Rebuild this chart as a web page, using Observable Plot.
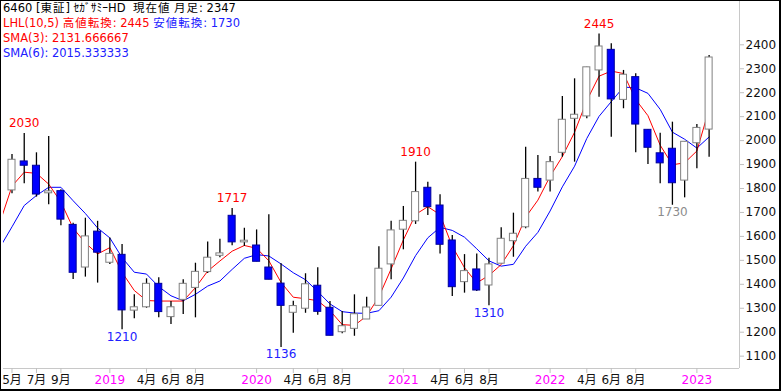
<!DOCTYPE html>
<html><head><meta charset="utf-8">
<script src="https://cdn.jsdelivr.net/npm/d3@7"></script>
<script src="https://cdn.jsdelivr.net/npm/@observablehq/plot@0.6"></script>
<style>
body{margin:0;background:#fff}
#wrap{position:relative;width:781px;height:391px;overflow:hidden;background:#fff}
#chart svg{display:block}
#hdr{position:absolute;left:3px;top:1px;font-family:"DejaVu Sans","Noto Sans CJK JP",sans-serif;font-size:11.5px;line-height:15px;white-space:pre}
#hdr .cjk{letter-spacing:1px}
#border{position:absolute;left:0;top:0;width:781px;height:391px;box-sizing:border-box;border:1px solid #000;border-right-width:2px;border-bottom-width:2px;pointer-events:none}
</style></head><body>
<div id="wrap"><div id="chart"></div><div id="hdr"></div><div id="border"></div></div>
<script>
// ---- data (monthly candles, 6460 セガサミーHD) ----
const months = ["2018-05","2018-06","2018-07","2018-08","2018-09","2018-10","2018-11","2018-12",
"2019-01","2019-02","2019-03","2019-04","2019-05","2019-06","2019-07","2019-08","2019-09","2019-10","2019-11","2019-12",
"2020-01","2020-02","2020-03","2020-04","2020-05","2020-06","2020-07","2020-08","2020-09","2020-10","2020-11","2020-12",
"2021-01","2021-02","2021-03","2021-04","2021-05","2021-06","2021-07","2021-08","2021-09","2021-10","2021-11","2021-12",
"2022-01","2022-02","2022-03","2022-04","2022-05","2022-06","2022-07","2022-08","2022-09","2022-10","2022-11","2022-12",
"2023-01","2023-02"];
const opens = [1792,1913,1895,1780,1789,1648,1470,1620,1490,1523,1290,1304,1402,1263,1335,1385,1451,1519,1686,1575,
1562,1470,1403,1281,1298,1394,1302,1200,1214,1253,1310,1483,1628,1663,1803,1729,1583,1409,1462,1395,1486,1580,1638,1840,
1833,1949,2091,2101,2293,2379,2170,2265,2045,1947,1966,1833,1989,2046];
const highs = [1942,2030,1949,2017,1795,1655,1676,1663,1593,1566,1356,1423,1427,1328,1419,1488,1577,1588,1717,1634,
1627,1690,1486,1329,1444,1469,1328,1286,1356,1346,1557,1663,1725,1910,1826,1774,1604,1524,1527,1509,1636,1697,1972,1938,
1934,2184,2258,2306,2445,2404,2293,2279,2045,2031,2077,1995,2067,2355];
const lows = [1778,1820,1764,1732,1644,1420,1430,1405,1483,1210,1256,1300,1260,1232,1274,1260,1445,1511,1561,1558,
1494,1419,1136,1196,1279,1271,1185,1193,1183,1253,1310,1419,1544,1650,1687,1527,1349,1363,1370,1310,1486,1513,1632,1785,
1785,1931,1910,2091,2181,2014,2133,1949,1900,1820,1730,1761,1882,1931];
const closes = [1920,1895,1775,1788,1670,1448,1600,1532,1527,1291,1304,1402,1284,1304,1402,1452,1511,1529,1575,1582,
1494,1419,1310,1309,1400,1285,1185,1225,1275,1303,1465,1625,1665,1785,1722,1565,1388,1455,1374,1483,1590,1611,1840,1803,
1910,2087,2108,2306,2393,2172,2275,2067,1970,1905,1822,1995,2053,2347];

// moving averages as drawn (first point is the month before the visible window)
const smaMonths = ["2018-04", ...months];
const sma3 = [1656,1810,1868,1863.3,1818.3,1743.3,1634.3,1572.7,1526.7,1553,1450,1374,1332.3,1330,1330,1330,1386,1455,1497.3,
1538.3,1562,1550.3,1498.3,1407.7,1346,1339.7,1331.3,1290,1231.7,1228.3,1267.7,1347.7,1464.3,1585,1691.7,1724,1690.7,1558.3,
1469.3,1405.7,1437.3,1482.3,1561.3,1680.3,1751.3,1851,1933.3,2035,2167,2269,2290.3,2280,2171.3,2104,1980.7,1899,1907.3,
1956.7,2131.7];
const sma6 = [1553,1640,1729,1771,1805,1805,1748.8,1695.5,1635,1593.7,1511.3,1450.3,1442.7,1390,1352,1331.2,1358,1392.5,
1413.7,1462.2,1508.5,1523.8,1518.3,1484.8,1448.2,1419,1369.5,1318,1285.7,1279.8,1278.8,1289.7,1346.3,1426.3,1519.7,1594.2,
1637.8,1625,1596.7,1548.2,1497.8,1475.8,1483.5,1558.8,1616.8,1706.2,1806.8,1893.2,2009,2101.2,2162.7,2223.5,2220.2,2197.2,
2130.3,2035.2,2005.7,1968.7,2015.3];

// LHL turning points
const pivotMonths = ["2018-06","2019-02","2019-11","2020-03","2021-02","2021-08","2022-05","2022-11"];
const pivotValues = [2030,1210,1717,1136,1910,1310,2445,1730];
const pivotKinds  = ["high","low","high","low","high","low","high","pending"];

// axis ticks
const monthTicks = ["2018-05","2018-07","2018-09","2019-04","2019-06","2019-08","2020-04","2020-06","2020-08",
"2021-04","2021-06","2021-08","2022-04","2022-06","2022-08"];
const yearTicks = ["2019-01","2020-01","2021-01","2022-01","2023-01"];
const yTicks = [1100,1200,1300,1400,1500,1600,1700,1800,1900,2000,2100,2200,2300,2400];

const header = {
  line1: "6460 [東証] ｾｶﾞｻﾐｰHD  現在値 月足: 2347",
  high: "LHL(10,5) 高値転換: 2445", low: "安値転換: 1730",
  s3: "SMA(3): 2131.666667", s6: "SMA(6): 2015.333333"
};

// ---- build ----
const idx = m => { const [y, mo] = m.split("-").map(Number); return (y - 2018) * 12 + (mo - 5); };
const candles = months.map((m, k) => ({i: idx(m), open: opens[k], high: highs[k], low: lows[k], close: closes[k]}));
const upC = candles.filter(d => d.close >= d.open);
const dnC = candles.filter(d => d.close < d.open);
const sma = smaMonths.map((m, k) => ({i: idx(m), s3: sma3[k], s6: sma6[k]}));
const pivots = pivotMonths.map((m, k) => ({i: idx(m), v: pivotValues[k], kind: pivotKinds[k]}));

const X_DOMAIN = [-0.695, 59.485];
const Y_DOMAIN = [1048.4, 2585];
const bodyOpts = {
  x1: d => d.i - 0.5, x2: d => d.i + 0.5,
  y1: d => Math.min(d.open, d.close), y2: d => Math.max(d.open, d.close),
  insetLeft: 2.6, insetRight: 2.6, strokeWidth: 1
};

const chart = Plot.plot({
  width: 781, height: 391,
  marginLeft: 3, marginRight: 42, marginTop: 0, marginBottom: 23,
  style: {fontFamily: "DejaVu Sans, Noto Sans CJK JP, sans-serif", fontSize: "12px", background: "white", overflow: "visible"},
  x: {type: "linear", domain: X_DOMAIN, axis: null},
  y: {domain: Y_DOMAIN, axis: null},
  marks: [
    Plot.ruleY([Y_DOMAIN[0]], {stroke: "#c8c8c8"}),
    Plot.ruleX([X_DOMAIN[1]], {stroke: "#c8c8c8"}),
    Plot.axisY(yTicks, {anchor: "right", label: null, tickSize: 4, tickPadding: 2, color: "#111", stroke: "#c0c0c0",
      tickFormat: d => String(d)}),
    Plot.axisX(monthTicks.map(idx), {anchor: "bottom", label: null, tickSize: 5, tickPadding: 2, color: "#111", stroke: "#c0c0c0",
      tickFormat: i => months[i].slice(5).replace(/^0/, "") + "月"}),
    Plot.axisX(yearTicks.map(idx), {anchor: "bottom", label: null, tickSize: 5, tickPadding: 2, color: "#ff00ff", stroke: "#c0c0c0",
      tickFormat: i => months[i].slice(0, 4)}),
    Plot.lineY(sma, {x: "i", y: "s6", stroke: "#0000ff", strokeWidth: 1, clip: true}),
    Plot.lineY(sma, {x: "i", y: "s3", stroke: "#ff0000", strokeWidth: 1, clip: true}),
    Plot.ruleX(candles, {x: "i", y1: "low", y2: "high", stroke: "#000", strokeWidth: 1.3}),
    Plot.rect(upC, {...bodyOpts, fill: "#ffffff", stroke: "#808080"}),
    Plot.rect(dnC, {...bodyOpts, fill: "#0000ff", stroke: "#00009a"}),
    Plot.text(pivots.filter(d => d.kind === "high"), {x: "i", y: "v", text: d => String(d.v), dy: -10, fill: "#ff0000", lineAnchor: "middle"}),
    Plot.text(pivots.filter(d => d.kind === "low"), {x: "i", y: "v", text: d => String(d.v), dy: 7, fill: "#2020ff", lineAnchor: "middle"}),
    Plot.text(pivots.filter(d => d.kind === "pending"), {x: "i", y: "v", text: d => String(d.v), dy: 7, fill: "#8c8c8c", lineAnchor: "middle"})
  ]
});
document.getElementById("chart").append(chart);

// full-width CJK runs are slightly wider in the reference
const cjk = s => s.replace(/([\u3000-\u30ff\u4e00-\u9fff]+)/g, '<span class="cjk">$1</span>');
const hdr = document.getElementById("hdr");
hdr.innerHTML =
  `<div style="color:#000">${cjk(header.line1)}</div>` +
  `<div><span style="color:#ff0000">${cjk(header.high)}</span> <span style="color:#2020ff">${cjk(header.low)}</span></div>` +
  `<div style="color:#ff0000">${header.s3}</div>` +
  `<div style="color:#2020ff">${header.s6}</div>`;
</script>
</body></html>
